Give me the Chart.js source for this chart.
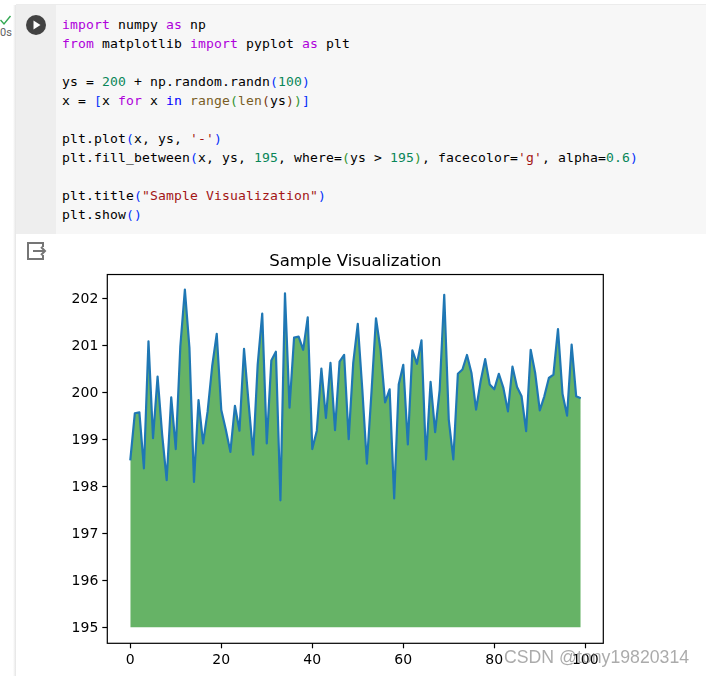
<!DOCTYPE html>
<html>
<head>
<meta charset="utf-8">
<script src="https://cdn.jsdelivr.net/npm/chart.js@4/dist/chart.umd.min.js"></script>
<style>
html,body{margin:0;padding:0;background:#fff;width:706px;height:676px;overflow:hidden}
#shadow{position:absolute;left:13px;top:5px;width:3px;height:671px;background:linear-gradient(to right,#fff,#e4e4e4)}
#cell{position:absolute;left:16px;top:4px;width:690px;height:230px;background:#f7f7f7;border-top:1px solid #ececec;box-sizing:border-box}
#gutter{position:absolute;left:16px;top:5px;width:40px;height:229px;background:#eeeeee}
#code{position:absolute;left:62px;top:14.5px;margin:0;font:13.08px/19px "DejaVu Sans Mono",monospace;letter-spacing:.125px;color:#000}
.k{color:#af00db}.n{color:#098658}.b{color:#0431fa}.g{color:#319331}.o{color:#7b3814}.f{color:#795e26}.s{color:#a31515}.i{color:#0000ff}
#ok{position:absolute;left:0;top:27px;font:11px/12px "Roboto",sans-serif;color:#616161}
svg{position:absolute}
#c{position:absolute;left:0;top:0}
#mark{position:absolute;left:504px;top:648px;font:17.7px/18px "Liberation Sans",sans-serif;color:rgba(120,120,120,.62);white-space:nowrap}
</style>
</head>
<body>
<div id="shadow"></div>
<div id="cell"></div>
<div id="gutter"></div>
<svg style="left:0;top:15px" width="12" height="11"><path d="M0.5 5 L4 9 L10.5 1" fill="none" stroke="#34a853" stroke-width="1.4"/></svg>
<div id="ok">0s</div>
<svg style="left:26px;top:15px" width="20" height="20"><circle cx="10" cy="10" r="10" fill="#424242"/><path d="M7.5 5.5 L14.5 10 L7.5 14.5 Z" fill="#fff"/></svg>
<svg style="left:26px;top:241px" width="22" height="20"><path d="M17 6 V2 H2 V18 H17 V14" fill="none" stroke="#757575" stroke-width="2"/><path d="M7 10 H19 M15 6 L19 10 L15 14" fill="none" stroke="#757575" stroke-width="2"/></svg>
<pre id="code"><span class="k">import</span> numpy <span class="k">as</span> np
<span class="k">from</span> matplotlib <span class="k">import</span> pyplot <span class="k">as</span> plt

ys = <span class="n">200</span> + np.random.randn<span class="b">(</span><span class="n">100</span><span class="b">)</span>
x = <span class="b">[</span>x <span class="k">for</span> x <span class="i">in</span> <span class="f">range</span><span class="g">(</span><span class="f">len</span><span class="o">(</span>ys<span class="o">)</span><span class="g">)</span><span class="b">]</span>

plt.plot<span class="b">(</span>x, ys, <span class="s">'-'</span><span class="b">)</span>
plt.fill_between<span class="b">(</span>x, ys, <span class="n">195</span>, where=<span class="g">(</span>ys &gt; <span class="n">195</span><span class="g">)</span>, facecolor=<span class="s">'g'</span>, alpha=<span class="n">0.6</span><span class="b">)</span>

plt.title<span class="b">(</span><span class="s">"Sample Visualization"</span><span class="b">)</span>
plt.show<span class="b">()</span></pre>
<canvas id="c" width="706" height="676" style="width:706px;height:676px"></canvas>
<div id="mark">CSDN @tony19820314</div>
<script>
const xValues = [0,1,2,3,4,5,6,7,8,9,10,11,12,13,14,15,16,17,18,19,20,21,22,23,24,25,26,27,28,29,30,31,32,33,34,35,36,37,38,39,40,41,42,43,44,45,46,47,48,49,50,51,52,53,54,55,56,57,58,59,60,61,62,63,64,65,66,67,68,69,70,71,72,73,74,75,76,77,78,79,80,81,82,83,84,85,86,87,88,89,90,91,92,93,94,95,96,97,98,99];
const ys = [198.55,199.55,199.57,198.38,201.08,199.02,200.33,199.1,198.13,199.89,
198.79,200.97,202.18,200.94,198.09,199.83,198.91,199.59,200.55,201.24,
199.62,199.2,198.73,199.71,199.18,200.92,199.77,198.67,200.58,201.67,
198.91,200.67,200.86,197.7,202.1,199.67,201.16,201.18,200.9,201.59,
198.79,199.18,200.5,199.45,200.62,199.19,200.65,200.79,199.0,200.62,
201.45,200.05,198.48,199.98,201.57,200.9,199.78,200.06,197.74,200.16,
200.58,198.89,200.89,200.6,201.1,198.57,200.22,199.15,200.05,202.07,
199.41,198.57,200.39,200.48,200.79,200.4,199.63,200.23,200.7,200.16,
200.06,200.39,200.09,199.59,200.54,200.11,199.91,199.17,200.9,200.4,
199.61,199.91,200.3,200.37,201.34,199.96,199.5,201.01,199.91,199.87];
const fillBase = 195;
const xTicks = [0,20,40,60,80,100];
const yTicks = [195,196,197,198,199,200,201,202];
const chartTitle = "Sample Visualization";

const frame = {
  id:'frame',
  afterDatasetsDraw(chart){
    const a = chart.chartArea, g = chart.ctx;
    g.save(); g.strokeStyle='#000'; g.lineWidth=1.2;
    g.strokeRect(a.left,a.top,a.right-a.left,a.bottom-a.top);
    g.restore();
  }
};

new Chart(document.getElementById('c'),{
  type:'line',
  data:{datasets:[{
    data:xValues.map((x,i)=>({x,y:ys[i]})),
    borderColor:'#1f77b4',
    borderWidth:2.2,
    tension:0,
    pointRadius:0,
    borderJoinStyle:'round',
    backgroundColor:'rgba(0,128,0,0.6)',
    fill:{value:fillBase}
  }]},
  plugins:[frame],
  options:{
    responsive:false,
    animation:false,
    devicePixelRatio:1,
    layout:{padding:{left:0,right:102.7,top:0,bottom:0}},
    plugins:{
      legend:{display:false},
      tooltip:{enabled:false},
      title:{display:true,text:chartTitle,fullSize:false,color:'#000',
        font:{family:'"DejaVu Sans"',size:16.6,weight:'normal'},
        padding:{top:251.5,bottom:3.1}}
    },
    scales:{
      x:{type:'linear',min:-5.05,max:103.96,
        afterBuildTicks(s){s.ticks=xTicks.map(v=>({value:v}));},
        afterFit(s){s.height=32.7;},
        border:{display:false},
        grid:{drawOnChartArea:false,drawTicks:true,tickLength:5,tickColor:'#000',tickWidth:1.2},
        ticks:{color:'#000',maxRotation:0,padding:4,autoSkip:false,font:{family:'"DejaVu Sans"',size:14}}
      },
      y:{type:'linear',min:194.66,max:202.5,
        afterBuildTicks(s){s.ticks=yTicks.map(v=>({value:v}));},
        afterFit(s){s.width=107.3;},
        border:{display:false},
        grid:{drawOnChartArea:false,drawTicks:true,tickLength:5,tickColor:'#000',tickWidth:1.2},
        ticks:{color:'#000',padding:4,labelOffset:1,autoSkip:false,font:{family:'"DejaVu Sans"',size:14}}
      }
    }
  }
});
</script>
</body>
</html>
